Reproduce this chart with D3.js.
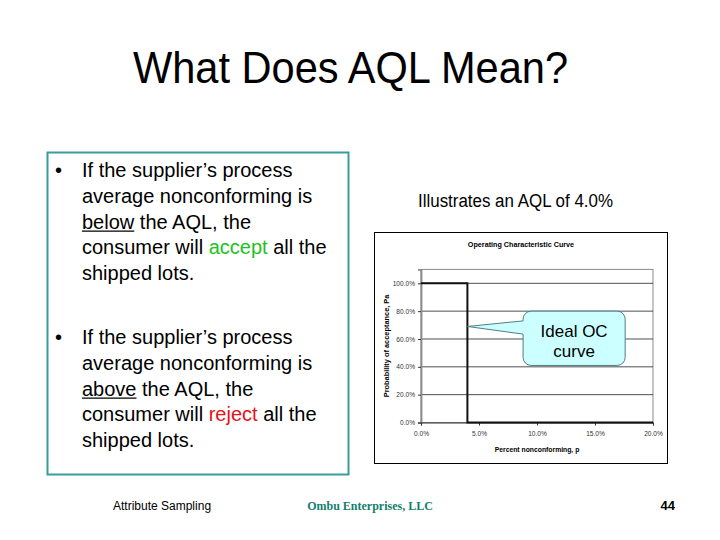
<!DOCTYPE html>
<html>
<head>
<meta charset="utf-8">
<script src="https://cdn.jsdelivr.net/npm/d3@7"></script>
<style>
  html, body { margin: 0; padding: 0; background: #fff; }
  svg { display: block; }
</style>
</head>
<body>
<svg id="slide" width="720" height="540"></svg>
<script>
// OC curve data (ideal plan, AQL = 4%)
var pValues = [0, 0.04, 0.04, 0.20];   // percent nonconforming
var paValues = [1, 1, 0, 0];           // probability of acceptance
var xTicks = [0, 0.05, 0.10, 0.15, 0.20];
var yTicks = [0, 0.2, 0.4, 0.6, 0.8, 1.0];

// bullet text, each line is a list of [text, style] segments
var bullet1 = [
  [["If the supplier\u2019s process", ""]],
  [["average nonconforming is", ""]],
  [["below", "u"], [" the AQL, the", ""]],
  [["consumer will ", ""], ["accept", "green"], [" all the", ""]],
  [["shipped lots.", ""]]
];
var bullet2 = [
  [["If the supplier\u2019s process", ""]],
  [["average nonconforming is", ""]],
  [["above", "u"], [" the AQL, the", ""]],
  [["consumer will ", ""], ["reject", "red"], [" all the", ""]],
  [["shipped lots.", ""]]
];

var svg = d3.select("#slide");
var sans = "'Liberation Sans', Arial, sans-serif";

// title
svg.append("text")
  .attr("x", 133).attr("y", 83)
  .attr("textLength", 435).attr("lengthAdjust", "spacingAndGlyphs")
  .style("font-family", sans).style("font-size", "45px")
  .text("What Does AQL Mean?");

// left text box
svg.append("rect")
  .attr("x", 47.5).attr("y", 152.5)
  .attr("width", 301).attr("height", 322)
  .attr("fill", "none").attr("stroke", "#3a9c9c").attr("stroke-width", 2);

var colors = { green: "#1ec21e", red: "#e8101a" };

function drawBullet(lines, y0) {
  svg.append("text")
    .attr("x", 55).attr("y", y0)
    .style("font-family", sans).style("font-size", "20px")
    .text("\u2022");
  lines.forEach(function(line, i) {
    var x = 82;
    var y = y0 + i * 25.8;
    line.forEach(function(seg) {
      var t = svg.append("text")
        .attr("x", x).attr("y", y)
        .attr("xml:space", "preserve")
        .style("white-space", "pre")
        .style("font-family", sans).style("font-size", "20px")
        .attr("fill", colors[seg[1]] || "#000")
        .text(seg[0]);
      var w = t.node().getComputedTextLength();
      if (seg[1] === "u") {
        svg.append("line")
          .attr("x1", x).attr("x2", x + w)
          .attr("y1", y + 2.5).attr("y2", y + 2.5)
          .attr("stroke", "#000").attr("stroke-width", 1.3);
      }
      x += w;
    });
  });
}
drawBullet(bullet1, 177);
drawBullet(bullet2, 344);

// caption above chart
svg.append("text")
  .attr("x", 418).attr("y", 207)
  .attr("textLength", 195).attr("lengthAdjust", "spacingAndGlyphs")
  .style("font-family", sans).style("font-size", "18px")
  .text("Illustrates an AQL of 4.0%");

// chart frame
svg.append("rect")
  .attr("x", 374.5).attr("y", 232.5)
  .attr("width", 293).attr("height", 231)
  .attr("fill", "#fff").attr("stroke", "#000").attr("stroke-width", 1);

svg.append("text")
  .attr("x", 521).attr("y", 247)
  .attr("text-anchor", "middle")
  .style("font-family", sans).style("font-size", "7.2px").style("font-weight", "bold")
  .text("Operating Characteristic Curve");

var x = d3.scaleLinear().domain([0, 0.20]).range([421, 653]);
var y = d3.scaleLinear().domain([0, 1.1]).range([422.5, 269.4]);

var plot = svg.append("g");

// plot area border
plot.append("rect")
  .attr("x", x(0)).attr("y", y(1.1))
  .attr("width", x(0.20) - x(0)).attr("height", y(0) - y(1.1))
  .attr("fill", "none").attr("stroke", "#8a8a8a").attr("stroke-width", 1);

// gridlines
plot.selectAll("line.grid")
  .data(yTicks.filter(function(d) { return d > 0; }))
  .enter().append("line")
  .attr("class", "grid")
  .attr("x1", x(0)).attr("x2", x(0.20))
  .attr("y1", function(d) { return y(d); })
  .attr("y2", function(d) { return y(d); })
  .attr("stroke", "#222").attr("stroke-width", 0.8);

// axes
var yAxis = d3.axisLeft(y).tickValues(yTicks).tickSize(3).tickPadding(3)
  .tickFormat(d3.format(".1%"));
var xAxis = d3.axisBottom(x).tickValues(xTicks).tickSize(3).tickPadding(6)
  .tickFormat(d3.format(".1%"));

var gy = svg.append("g").attr("transform", "translate(" + x(0) + ",0)").call(yAxis);
var gx = svg.append("g").attr("transform", "translate(0," + y(0) + ")").call(xAxis);

gy.select(".domain").attr("stroke", "#8a8a8a").attr("stroke-width", 1.8);
gx.select(".domain").attr("stroke", "#333").attr("stroke-width", 1);
[gx, gy].forEach(function(g) {
  g.selectAll(".tick line").attr("stroke", "#333");
  g.selectAll(".tick text")
    .attr("fill", "#333")
    .style("font-family", sans).style("font-size", "6.6px");
});

// the OC curve
var line = d3.line()
  .x(function(d) { return x(d[0]); })
  .y(function(d) { return y(d[1]); });

svg.append("path")
  .datum(d3.zip(pValues, paValues))
  .attr("d", line)
  .attr("fill", "none")
  .attr("stroke", "#111")
  .attr("stroke-width", 2);

// axis titles
svg.append("text")
  .attr("x", 537).attr("y", 452)
  .attr("text-anchor", "middle")
  .style("font-family", sans).style("font-size", "6.8px").style("font-weight", "bold")
  .text("Percent nonconforming, p");

svg.append("text")
  .attr("transform", "translate(389," + y(0.55) + ") rotate(-90)")
  .attr("text-anchor", "middle")
  .style("font-family", sans).style("font-size", "7.4px").style("font-weight", "bold")
  .text("Probability of acceptance, Pa");

// callout "Ideal OC curve"
var cl = x(0.088), cr = x(0.176), ct = y(0.80), cb = y(0.41), r = 8;
var tipX = x(0.04), tipY = y(0.69);
var p = d3.path();
p.moveTo(cl + r, ct);
p.lineTo(cr - r, ct);
p.arcTo(cr, ct, cr, ct + r, r);
p.lineTo(cr, cb - r);
p.arcTo(cr, cb, cr - r, cb, r);
p.lineTo(cl + r, cb);
p.arcTo(cl, cb, cl, cb - r, r);
p.lineTo(cl, y(0.635));
p.lineTo(tipX, tipY);
p.lineTo(cl, y(0.73));
p.lineTo(cl, ct + r);
p.arcTo(cl, ct, cl + r, ct, r);
p.closePath();

svg.append("path")
  .attr("d", p.toString())
  .attr("fill", "#ccffff")
  .attr("stroke", "#4f7f86")
  .attr("stroke-width", 1);

svg.append("text")
  .attr("x", (cl + cr) / 2).attr("y", 336.5)
  .attr("text-anchor", "middle")
  .style("font-family", sans).style("font-size", "17px")
  .text("Ideal OC");
svg.append("text")
  .attr("x", (cl + cr) / 2).attr("y", 357)
  .attr("text-anchor", "middle")
  .style("font-family", sans).style("font-size", "17px")
  .text("curve");

// footer
svg.append("text")
  .attr("x", 113).attr("y", 510)
  .style("font-family", sans).style("font-size", "12px")
  .text("Attribute Sampling");
svg.append("text")
  .attr("x", 370).attr("y", 510)
  .attr("text-anchor", "middle")
  .attr("fill", "#14806e")
  .style("font-family", "'Liberation Serif', 'Times New Roman', serif")
  .style("font-size", "12px").style("font-weight", "bold")
  .text("Ombu Enterprises, LLC");
svg.append("text")
  .attr("x", 675).attr("y", 510)
  .attr("text-anchor", "end")
  .style("font-family", sans).style("font-size", "13px").style("font-weight", "bold")
  .text("44");
</script>
</body>
</html>
